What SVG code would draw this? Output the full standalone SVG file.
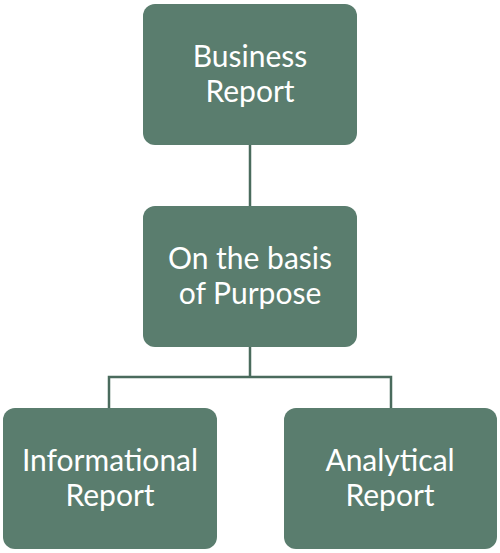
<svg xmlns="http://www.w3.org/2000/svg" width="500" height="553" viewBox="0 0 500 553">
<style>
.box{fill:#5a7d6e;}
.t{font-family:Lato,"Open Sans","Liberation Sans",sans-serif;font-size:30px;fill:#ffffff;text-anchor:middle;}
.c{fill:none;stroke:#4a6b5d;stroke-width:2.5;}
</style>
<rect width="500" height="553" fill="#ffffff"/>
<g id="connectors">
<path class="c" d="M250,145 V206"/>
<path class="c" d="M250,347 V377 M109,408 V377 H391 V408"/>
</g>
<g id="business-report">
<rect class="box" x="143" y="4" width="214" height="141" rx="12"/>
<text class="t" x="250" y="67">Business</text>
<text class="t" x="250" y="102">Report</text>
</g>
<g id="on-the-basis">
<rect class="box" x="143" y="206" width="214" height="141" rx="12"/>
<text class="t" x="250" y="269">On the basis</text>
<text class="t" x="250" y="304">of Purpose</text>
</g>
<g id="informational-report">
<rect class="box" x="3" y="408" width="214" height="141" rx="12"/>
<text class="t" x="110" y="471">Informational</text>
<text class="t" x="110" y="506">Report</text>
</g>
<g id="analytical-report">
<rect class="box" x="284" y="408" width="213" height="141" rx="12"/>
<text class="t" x="390" y="471">Analytical</text>
<text class="t" x="390" y="506">Report</text>
</g>
</svg>
